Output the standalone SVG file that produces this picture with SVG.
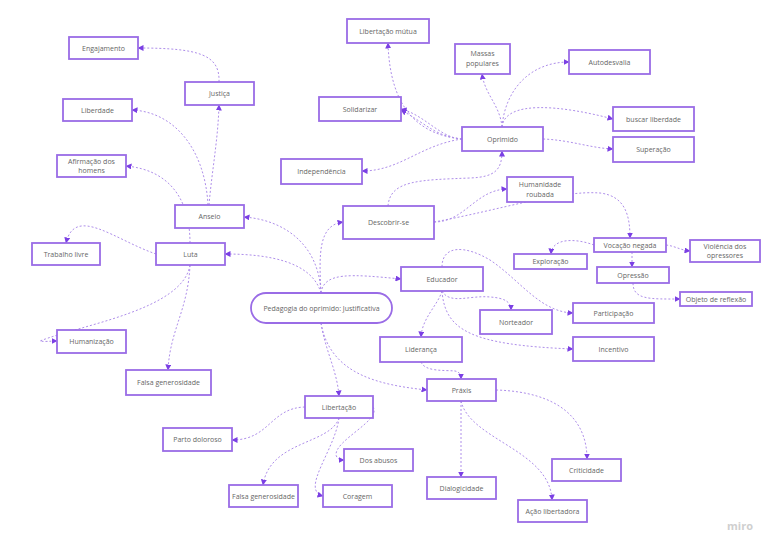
<svg xmlns="http://www.w3.org/2000/svg" width="768" height="547" viewBox="0 0 768 547">
<defs>
<marker id="arr" markerWidth="6" markerHeight="6" refX="5.5" refY="3" orient="auto" markerUnits="userSpaceOnUse">
<path d="M0,0 L6,3 L0,6 z" fill="#7b3fe4"/>
</marker>
<style>
.n rect{fill:#fff;stroke:#9a6ce6;stroke-width:1.8}
.n text{font-family:"Open Sans","Liberation Sans",sans-serif;font-size:7px;fill:#666;text-anchor:middle}
#edges path{fill:none;stroke:#ae8eea;stroke-width:1;stroke-dasharray:2 2;marker-end:url(#arr)}
</style>
</defs>
<rect width="768" height="547" fill="#fff"/>
<g id="edges">
<path d="M321,293 C319,245 285,220 244,217"/>
<path d="M321,293 C312,262 270,254 225,254"/>
<path d="M321,293 C319,255 318,225 343,222"/>
<path d="M321,293 C324,272 350,274 401,279"/>
<path d="M321,323 C325,350 337,370 339,396"/>
<path d="M321,323 C330,375 380,385 427,390"/>
<path d="M209,205 C212,170 218,140 219,105"/>
<path d="M208,205 C205,150 175,112 132,110"/>
<path d="M219,82 C220,55 200,48 138,48"/>
<path d="M190,243 C190,200 170,170 126,166"/>
<path d="M156,254 C115,240 75,205 66,243"/>
<path d="M190,265 C188,310 170,330 168,370"/>
<path d="M190,265 C183,310 80,325 40,341 C45,342 50,341 57,341"/>
<path d="M462,139 C420,135 390,110 388,43"/>
<path d="M462,139 C440,138 425,115 401,109"/>
<path d="M462,139 C435,136 428,125 401,110"/>
<path d="M462,139 C420,145 400,171 362,171"/>
<path d="M502,127 C500,105 485,95 482,74"/>
<path d="M502,127 C505,90 530,62 569,62"/>
<path d="M502,127 C505,100 560,105 613,119"/>
<path d="M543,139 C570,140 590,148 613,149"/>
<path d="M388,206 C390,180 420,180 470,178 C495,177 502,170 502,151"/>
<path d="M434,222 C465,222 475,190 507,189"/>
<path d="M434,222 C500,210 560,190 600,193 C625,196 630,215 630,238"/>
<path d="M594,245 C575,238 552,238 551,254"/>
<path d="M666,245 C675,246 680,250 690,251"/>
<path d="M632,252 L632,267"/>
<path d="M633,283 C633,300 650,299 680,299"/>
<path d="M442,267 C442,245 465,245 490,260 C520,280 540,312 573,313"/>
<path d="M442,291 C450,305 470,295 490,297 C505,298 511,302 511,310"/>
<path d="M442,291 C438,305 422,318 421,337"/>
<path d="M442,291 C445,330 470,345 573,349"/>
<path d="M421,362 C425,372 445,370 455,371 C460,372 461,375 461,379"/>
<path d="M461,401 L461,477"/>
<path d="M461,401 C470,440 550,450 552,500"/>
<path d="M496,390 C560,392 587,420 587,459"/>
<path d="M305,407 C270,408 270,440 232,440"/>
<path d="M339,418 C330,445 270,440 263,485"/>
<path d="M339,418 C335,450 300,490 323,496"/>
<path d="M373,407 C382,420 335,440 336,455 C337,459 340,460 344,460"/>
</g>
<g id="engajamento" class="n"><rect x="69" y="37" width="69" height="22"/><text x="103.5" y="50.5">Engajamento</text></g>
<g id="justica" class="n"><rect x="185" y="82" width="69" height="23"/><text x="219.5" y="96">Justiça</text></g>
<g id="liberdade" class="n"><rect x="63" y="99" width="69" height="22"/><text x="97.5" y="112.5">Liberdade</text></g>
<g id="afirmacao" class="n"><rect x="57" y="155" width="69" height="22"/><text x="91.5" y="163.5">Afirmação dos</text><text x="91.5" y="173">homens</text></g>
<g id="anseio" class="n"><rect x="175" y="205" width="69" height="23"/><text x="209.5" y="219">Anseio</text></g>
<g id="luta" class="n"><rect x="156" y="243" width="69" height="22"/><text x="190.5" y="256.5">Luta</text></g>
<g id="trabalho" class="n"><rect x="32" y="243" width="68" height="22"/><text x="66" y="256.5">Trabalho livre</text></g>
<g id="humanizacao" class="n"><rect x="57" y="330" width="69" height="23"/><text x="91.5" y="344">Humanização</text></g>
<g id="falsa1" class="n"><rect x="126" y="370" width="85" height="25"/><text x="168.5" y="385">Falsa generosidade</text></g>
<g id="libmutua" class="n"><rect x="347" y="19" width="82" height="24"/><text x="388" y="33.5">Libertação mútua</text></g>
<g id="massas" class="n"><rect x="455" y="44" width="55" height="30"/><text x="482.5" y="56">Massas</text><text x="482.5" y="66">populares</text></g>
<g id="solidarizar" class="n"><rect x="319" y="97" width="82" height="24"/><text x="360" y="111.5">Solidarizar</text></g>
<g id="oprimido" class="n"><rect x="462" y="127" width="81" height="24"/><text x="502.5" y="141.5">Oprimido</text></g>
<g id="independencia" class="n"><rect x="281" y="159" width="81" height="25"/><text x="321.5" y="174">Independência</text></g>
<g id="autodesvalia" class="n"><rect x="569" y="50" width="81" height="24"/><text x="609.5" y="64.5">Autodesvalia</text></g>
<g id="buscar" class="n"><rect x="613" y="107" width="81" height="24"/><text x="653.5" y="121.5">buscar liberdade</text></g>
<g id="superacao" class="n"><rect x="613" y="137" width="81" height="25"/><text x="653.5" y="152">Superação</text></g>
<g id="humanidade" class="n"><rect x="507" y="177" width="66" height="25"/><text x="540" y="187">Humanidade</text><text x="540" y="196.5">roubada</text></g>
<g id="descobrir" class="n"><rect x="343" y="206" width="91" height="33"/><text x="388.5" y="225">Descobrir-se</text></g>
<g id="vocacao" class="n"><rect x="594" y="238" width="72" height="14"/><text x="630" y="247.5">Vocação negada</text></g>
<g id="violencia" class="n"><rect x="690" y="240" width="70" height="22"/><text x="725" y="249">Violência dos</text><text x="725" y="258">opressores</text></g>
<g id="exploracao" class="n"><rect x="514" y="254" width="73" height="15"/><text x="550.5" y="264">Exploração</text></g>
<g id="opressao" class="n"><rect x="597" y="267" width="72" height="16"/><text x="633" y="277.5">Opressão</text></g>
<g id="objeto" class="n"><rect x="680" y="292" width="72" height="14"/><text x="716" y="301.5">Objeto de reflexão</text></g>
<g id="educador" class="n"><rect x="401" y="267" width="82" height="24"/><text x="442" y="281.5">Educador</text></g>
<g id="pedagogia" class="n"><rect x="251" y="293" width="141" height="30" rx="15"/><text x="321.5" y="310.5">Pedagogia do oprimido: Justificativa</text></g>
<g id="norteador" class="n"><rect x="480" y="310" width="72" height="24"/><text x="516" y="324.5">Norteador</text></g>
<g id="participacao" class="n"><rect x="573" y="303" width="81" height="20"/><text x="613.5" y="315.5">Participação</text></g>
<g id="lideranca" class="n"><rect x="380" y="337" width="82" height="25"/><text x="421" y="352">Liderança</text></g>
<g id="incentivo" class="n"><rect x="573" y="337" width="81" height="24"/><text x="613.5" y="351.5">Incentivo</text></g>
<g id="praxis" class="n"><rect x="427" y="379" width="69" height="22"/><text x="461.5" y="392.5">Práxis</text></g>
<g id="libertacao" class="n"><rect x="305" y="396" width="68" height="22"/><text x="339" y="409.5">Libertação</text></g>
<g id="parto" class="n"><rect x="163" y="428" width="69" height="23"/><text x="197.5" y="442">Parto doloroso</text></g>
<g id="abusos" class="n"><rect x="344" y="449" width="69" height="22"/><text x="378.5" y="462.5">Dos abusos</text></g>
<g id="falsa2" class="n"><rect x="229" y="485" width="69" height="22"/><text x="263.5" y="498.5">Falsa generosidade</text></g>
<g id="coragem" class="n"><rect x="323" y="485" width="69" height="22"/><text x="357.5" y="498.5">Coragem</text></g>
<g id="criticidade" class="n"><rect x="552" y="459" width="69" height="22"/><text x="586.5" y="472.5">Criticidade</text></g>
<g id="dialogicidade" class="n"><rect x="427" y="477" width="69" height="22"/><text x="461.5" y="490.5">Dialogicidade</text></g>
<g id="acao" class="n"><rect x="518" y="500" width="69" height="22"/><text x="552.5" y="513.5">Ação libertadora</text></g>
<text x="727" y="530" font-family="'Open Sans','Liberation Sans',sans-serif" font-size="11" font-weight="bold" fill="#cfcfcf">miro</text>
</svg>
